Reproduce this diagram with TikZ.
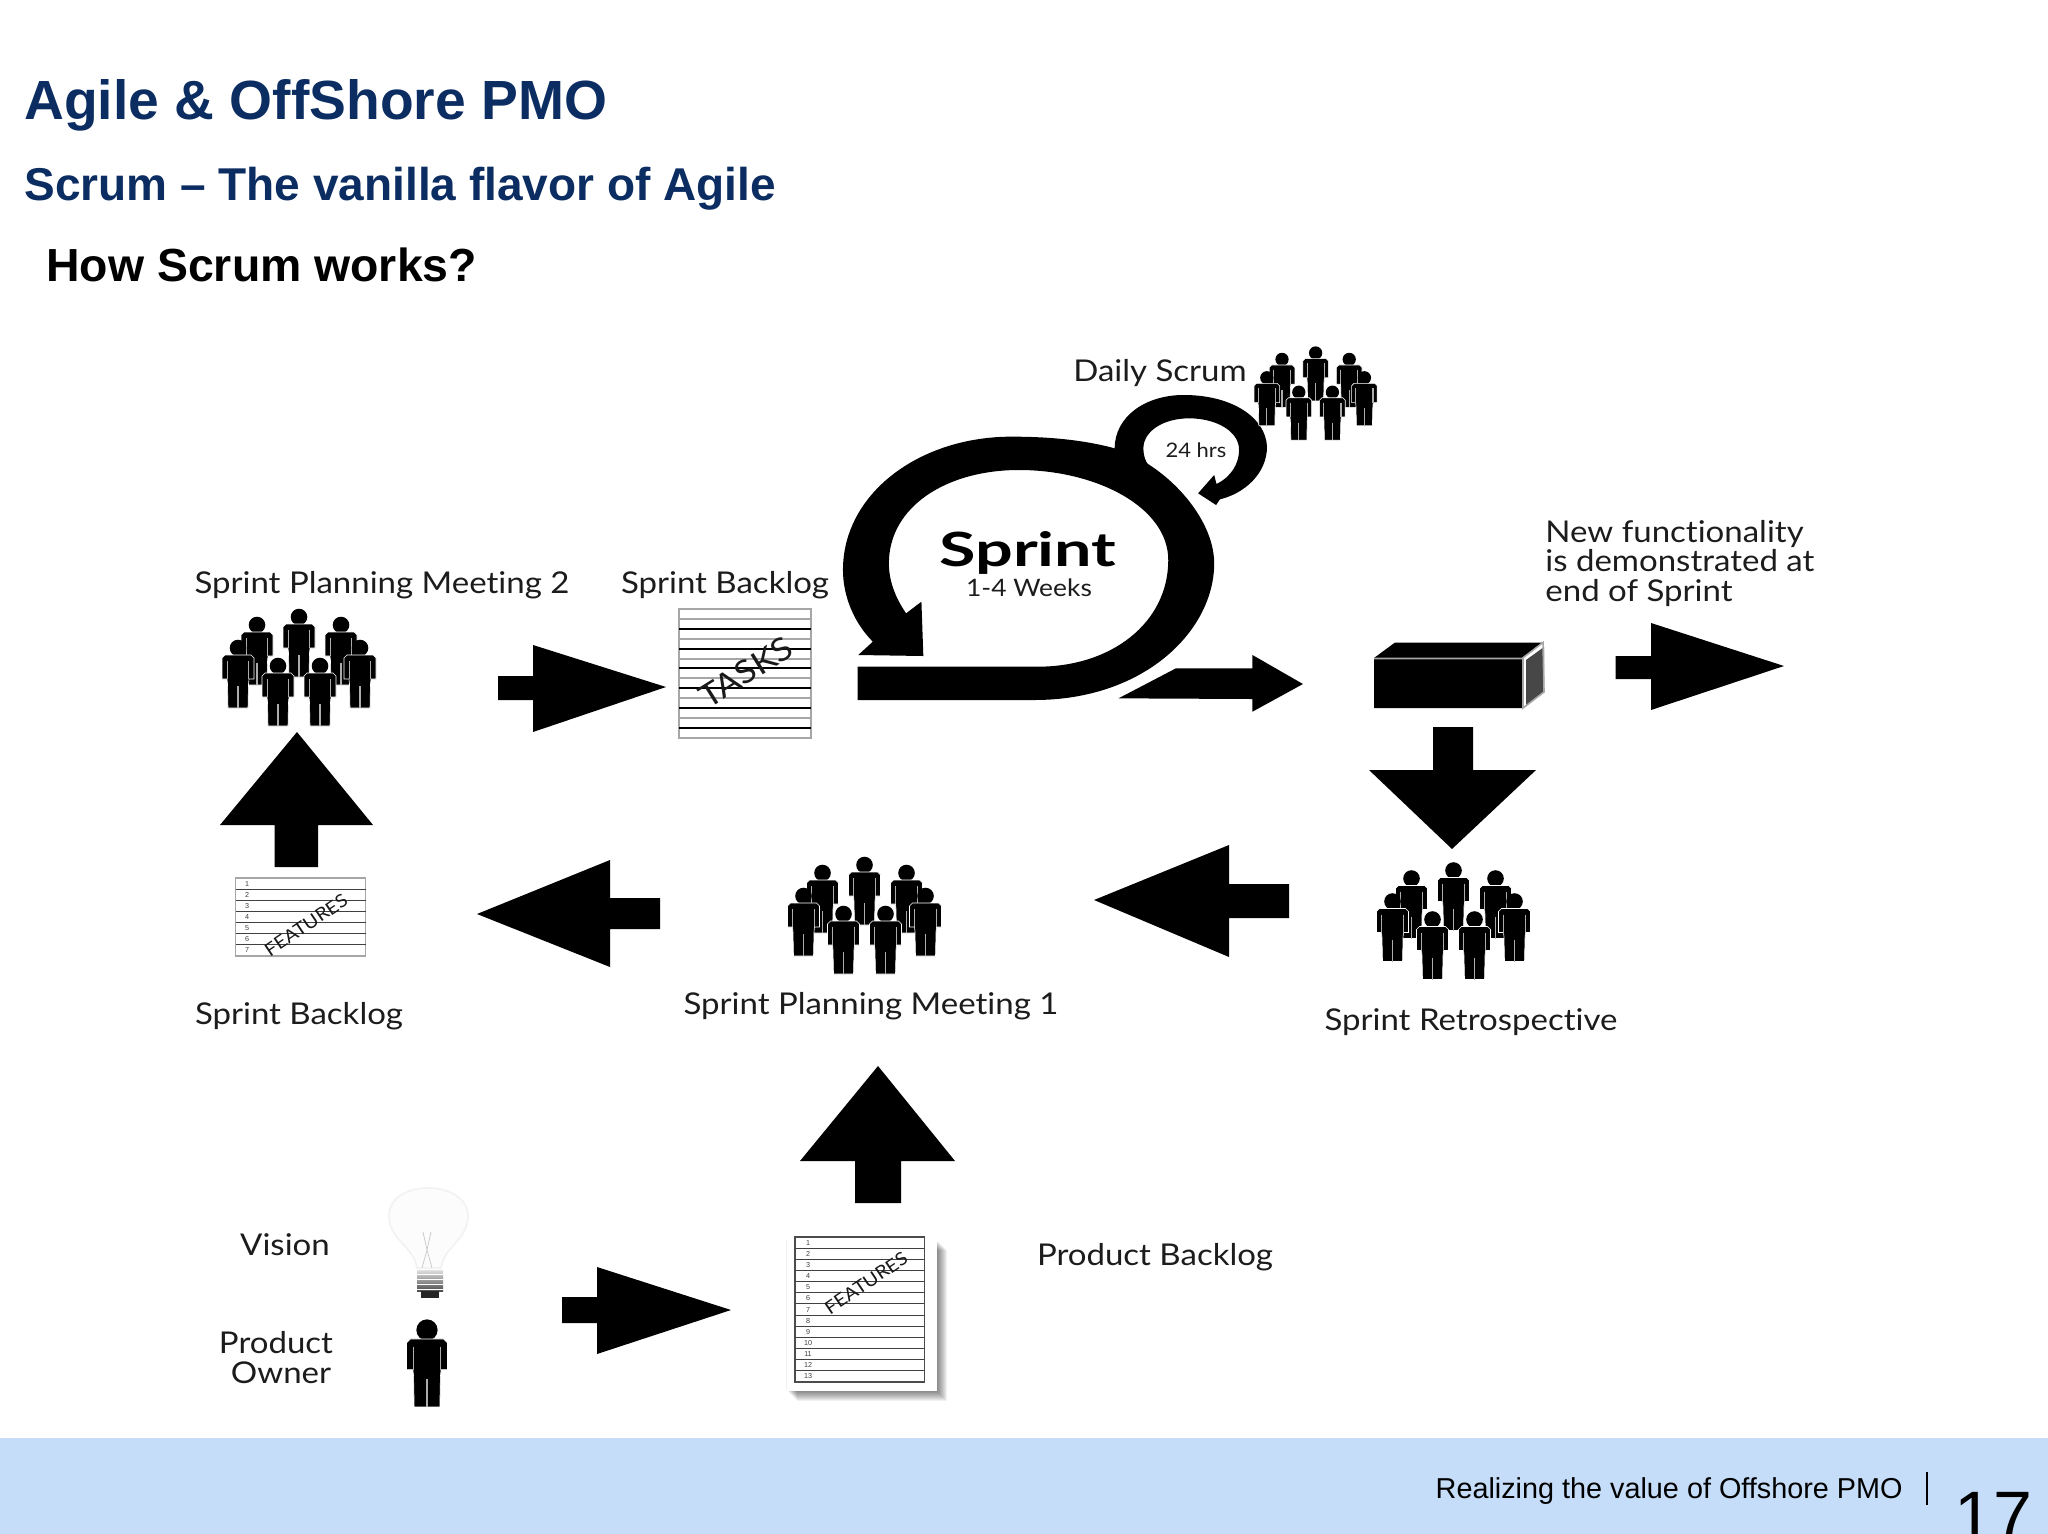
\documentclass[tikz,border=0pt]{standalone}
\usepackage{fontspec}
\setmainfont{Liberation Sans}
\newfontfamily\gillf[FakeStretch=1.1,Ligatures=CommonOff]{Lato}
\definecolor{navy}{HTML}{0B2D62}
\definecolor{band}{HTML}{C5DDF8}
\definecolor{ink}{HTML}{1C1C1C}
\newcommand\fsz[1]{\fontsize{#1}{#1}\selectfont}
\newcommand\tperson[3]{\begin{scope}[shift={(#1,#2)},scale=#3]
  \fill[black] (0,0) circle [radius=8.3];
  \filldraw[fill=black,draw=white,line width=.3pt] (-13,7) -- (13,7) -- (16,10) -- (16,31) -- (11,31) -- (10.5,36) -- (10,60) -- (-10,60) -- (-10.5,36) -- (-11,31) -- (-16,31) -- (-16,10) -- cycle;
  \draw[gray!65,line width=.55pt] (10.7,13) -- (10.7,31) (-10.7,13) -- (-10.7,31) (0,38) -- (0,60);
\end{scope}}
\newcommand\tgroup[3]{\begin{scope}[shift={(#1,#2)},scale=#3]
  \tperson{-42}{8}{1}\tperson{42}{8}{1}\tperson{0}{0}{1}
  \tperson{-61}{31}{1}\tperson{61}{31}{1}\tperson{-21}{49}{1}\tperson{21}{49}{1}
\end{scope}}
\tikzset{
 blk/.style={fill=black,draw=none},
 lab/.style={font=\gillf\fsz{15}\color{ink},inner sep=0pt,align=center},
 rowline/.style={draw=black!75,line width=.55pt},
 tablenum/.style={font=\fsz{3.6}\color{black!75},inner sep=0pt},
 stamp/.style={inner sep=0pt,text=black!90},
}
\begin{document}
\begin{tikzpicture}[x=0.5pt,y=-0.5pt]
\useasboundingbox (0,0) rectangle (2048,1534);
\fill[white] (0,0) rectangle (2048,1534);
% footer
\fill[band] (0,1438) rectangle (2048,1534);
\node[anchor=east,inner sep=0pt,font=\fsz{14.4}] (foot) at (1903,1491) {Realizing the value of Offshore PMO};
\draw[black,line width=1.4pt] (1927,1472) -- (1927,1505);
\node[anchor=base west,inner sep=0pt,font=\fsz{35}] (page) at (1954,1540) {17};
% titles
\node[anchor=west,inner sep=0pt,font=\bfseries\fsz{27.6},text=navy] (t1) at (24,105) {Agile \& OffShore PMO};
\node[anchor=west,inner sep=0pt,font=\bfseries\fsz{23},text=navy] (t2) at (24,189) {Scrum – The vanilla flavor of Agile};
\node[anchor=west,inner sep=0pt,font=\bfseries\fsz{23.2},text=black] (t3) at (46,265) {How Scrum works?};
% block arrows
\fill[blk] (498,676) -- (533,676) -- (533,645) -- (666,687) -- (533,732) -- (533,700) -- (498,700) -- cycle;
\fill[blk] (297,732) -- (373,825) -- (318,825) -- (318,867) -- (274.5,867) -- (274.5,825) -- (220,825) -- cycle;
\fill[blk] (477,914) -- (610,860) -- (610,898) -- (660,898) -- (660,929) -- (610,929) -- (610,967) -- cycle;
\fill[blk] (1615.5,656) -- (1651,656) -- (1651,623) -- (1784,666) -- (1651,710) -- (1651,679) -- (1615.5,679) -- cycle;
\fill[blk] (1433,727) -- (1473,727) -- (1473,770) -- (1536,770) -- (1452,849) -- (1369,770) -- (1433,770) -- cycle;
\fill[blk] (1094,900) -- (1229,845) -- (1229,884) -- (1289,884) -- (1289,918) -- (1229,918) -- (1229,957) -- cycle;
\fill[blk] (878,1066) -- (955,1161) -- (901,1161) -- (901,1203) -- (855,1203) -- (855,1161) -- (800,1161) -- cycle;
\fill[blk] (562,1297) -- (597,1297) -- (597,1267) -- (731,1310) -- (597,1354) -- (597,1323) -- (562,1323) -- cycle;
% sprint loops (coordinates in a local frame)
\begin{scope}[shift={(820,330)},x=0.19135pt,y=-0.16667pt]
\fill[blk] (98,1110) -- (560,1110) .. controls (850,1110) and (1030,900) .. (1030,700)
  .. controls (1030,560) and (900,400) .. (770,355) .. controls (690,330) and (600,320) .. (500,320)
  .. controls (260,320) and (60,490) .. (60,720) .. controls (60,800) and (90,880) .. (138,935)
  -- (100,975) -- (270,978) -- (265,815) -- (225,850) .. controls (195,800) and (180,750) .. (180,700)
  .. controls (180,530) and (330,420) .. (520,420) .. controls (720,420) and (910,530) .. (910,690)
  .. controls (910,880) and (760,1010) .. (570,1010) -- (98,1010) -- cycle;
\fill[blk] (770,355) .. controls (770,260) and (850,195) .. (950,195) .. controls (1080,195) and (1165,265) .. (1168,350)
  .. controls (1168,430) and (1110,490) .. (1045,508) -- (1035,525) -- (988,490) -- (1030,435) -- (1036,462)
  .. controls (1075,440) and (1095,400) .. (1095,360) .. controls (1095,300) and (1030,265) .. (965,265)
  .. controls (895,265) and (845,305) .. (845,355) .. controls (845,385) and (855,410) .. (880,430) -- (800,420) -- cycle;
\fill[blk] (780,1105) -- (930,1015) -- (1130,1015) -- (1130,975) -- (1262,1062) -- (1130,1145) -- (1130,1107) -- cycle;
\end{scope}
\node[font=\gillf\bfseries\fsz{23.6},text=black,inner sep=0pt,anchor=base,xscale=1.28] (sprint) at (1028,566.5) {Sprint};
\node[lab,font=\gillf\fsz{12}\color{ink}] (weeks) at (1029,588) {1-4 Weeks};
\node[lab,font=\gillf\fsz{10}\color{ink}] (hrs) at (1196,450) {24 hrs};
% box
\fill[black] (1374,658) -- (1395,642.5) -- (1543,642.5) -- (1522,658) -- (1522,708) -- (1374,708) -- cycle;
\fill[black!72] (1526,660) -- (1544,647) -- (1544,692) -- (1526,706) -- cycle;
\draw[gray!70,line width=.8pt] (1374,658.5) -- (1522,658.5) -- (1543,642.5) -- (1544,692) -- (1523,708) -- (1523,658.5);
% people
\tgroup{299}{617}{1}
\tgroup{864.5}{865}{1}
\tgroup{1453.5}{870.5}{1}
\tgroup{1315.6}{353}{.8}
\tperson{427}{1330}{1.28}
% tasks doc
\draw[draw=gray!70,fill=white,line width=.8pt] (679,609) rectangle (811,738);
\foreach \yy/\cc in {619/gray!70,629/black,639/gray!70,649/black,659/gray!70,668/black,678/gray!70,688/black,698/gray!70,708/black,718/gray!70,728/black}
  \draw[\cc,line width=.8pt] (679,\yy) -- (811,\yy);
\node[stamp,font=\gillf\fsz{16},rotate=32] (tasks) at (746,672) {TASKS};
% small features
\draw[draw=gray!70,fill=white,line width=.7pt] (235.5,878) rectangle (365.5,956);
\foreach \i in {1,...,6} \draw[rowline] (235.5,{878+\i*11.14}) -- (365.5,{878+\i*11.14});
\foreach \i in {1,...,7} \node[tablenum] (sn\i) at (247,{872.5+\i*11.14}) {\i};
\node[stamp,font=\gillf\fsz{9},rotate=34] (featS) at (306,925) {FEATURES};
% large features
\foreach \d in {1,...,12} \fill[black,opacity=.055] ({785+\d},{1238+\d}) rectangle ({935+\d},{1389+\d});
\fill[white] (787,1235) rectangle (937,1391);
\draw[draw=black!70,line width=.6pt] (795,1237) rectangle (924.5,1382);
\foreach \i in {1,...,12} \draw[rowline] (795,{1237+\i*11.15}) -- (924.5,{1237+\i*11.15});
\foreach \i in {1,...,13} \node[tablenum] (ln\i) at (808,{1231.5+\i*11.15}) {\i};
\node[stamp,font=\gillf\fsz{9},rotate=34] (featL) at (866,1283) {FEATURES};
% lightbulb
\filldraw[fill=black!1,draw=black!5,line width=.8pt] (417,1268) .. controls (413,1245) and (389,1240) .. (389,1216) .. controls (389,1198) and (407,1188) .. (428,1188) .. controls (449,1188) and (468,1198) .. (468,1216) .. controls (468,1240) and (445,1245) .. (441,1268) -- cycle;
\draw[black!22,line width=.35pt] (422,1268) -- (427,1250) -- (432,1268) (427,1250) -- (423,1232) (427,1250) -- (431,1232);
\shade[top color=black!12,bottom color=black!70] (417,1270) rectangle (443,1291);
\fill[black!85] (421,1291) rectangle (439,1298);
\foreach \yy in {1274,1279,1284,1289} \draw[white,line width=.35pt] (417,\yy) -- (443,\yy);
% labels
\node[lab] (dailyl) at (1160,373) {Daily Scrum};
\node[lab,align=left,anchor=north west] (newl) at (1545,520) {New functionality\\[-.3pt]is demonstrated at\\[-.3pt]end of Sprint};
\node[lab] (spm2) at (382,585) {Sprint Planning Meeting 2};
\node[lab] (sb1) at (725,585) {Sprint Backlog};
\node[lab] (sb2) at (299,1016) {Sprint Backlog};
\node[lab] (spm1) at (871,1006) {Sprint Planning Meeting 1};
\node[lab] (retro) at (1471,1022) {Sprint Retrospective};
\node[lab] (vis) at (285,1245) {Vision};
\node[lab] (prod) at (276,1343) {Product};
\node[lab] (own) at (281,1373) {Owner};
\node[lab] (pb) at (1155,1257) {Product Backlog};
\end{tikzpicture}
\end{document}
